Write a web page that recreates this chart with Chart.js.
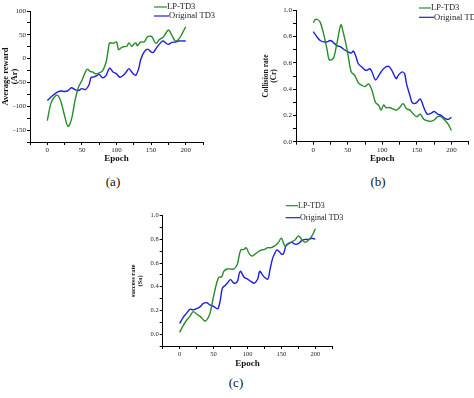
<!DOCTYPE html>
<html>
<head>
<meta charset="utf-8">
<script src="https://cdn.jsdelivr.net/npm/chart.js@4.4.1/dist/chart.umd.min.js"></script>
<style>
  body { margin: 0; background: #fff; }
  #wrap { position: relative; width: 474px; height: 398px; overflow: hidden; }
  canvas { position: absolute; }
  .cap { position: absolute; width: 40px; text-align: center; font: 13px "Liberation Serif", serif; color: #111; }
</style>
</head>
<body>
<div id="wrap">
  <canvas id="rewardChart" width="237" height="168" style="left:0;top:0"></canvas>
  <canvas id="collisionChart" width="237" height="168" style="left:237px;top:0"></canvas>
  <canvas id="successChart" width="237" height="178" style="left:120px;top:195px"></canvas>
  <div class="cap" style="left:93px;top:174px">(a)</div>
  <div class="cap" style="left:358px;top:174px">(b)</div>
  <div class="cap" style="left:216px;top:375px">(c)</div>
</div>
<script>
const seriesNames = ['LP-TD3', 'Original TD3'];
const epochTicks = [0, 50, 100, 150, 200];
const rewardTicks = [-150, -100, -50, 0, 50, 100];
const rateTicks = [0, 0.2, 0.4, 0.6, 0.8, 1.0];

// (a) average reward
const rewardEpochsLP = [0,5,10,15,20,25,30,35,40,45,50,55,58,62,65,70,75,80,85,88,90,95,100,103,107,110,115,118,122,125,128,130,135,140,145,150,152,157,162,168,175,180,185,190,195,200];
const rewardLP = [-130,-95,-81,-77,-92,-120,-142,-127,-88,-60,-46,-28,-22,-27,-28,-32,-30,-25,-7,18,33,32,35,19,23,25,26,33,26,30,33,27,35,35,46,47,44,32,40,46,60,49,37,41,53,67];
const rewardEpochsTD3 = [0,5,10,15,20,25,30,35,40,45,50,55,60,63,65,70,75,80,85,90,95,100,105,110,115,118,122,125,128,132,135,140,145,150,153,158,163,167,172,175,180,185,190,200];
const rewardTD3 = [-88,-81,-75,-70,-68,-69,-67,-61,-65,-67,-63,-65,-56,-40,-39,-37,-33,-40,-35,-20,-28,-32,-39,-35,-26,-21,-28,-33,-35,-21,-2,14,20,14,13,23,32,37,32,30,34,35,37,37];

// (b) collision rate
const collisionEpochsLP = [0,3,6,10,15,20,23,27,30,35,40,43,47,50,55,60,65,70,75,80,85,90,95,98,102,105,110,115,120,125,130,135,140,145,150,155,160,165,170,175,180,185,190,195,200];
const collisionLP = [0.906,0.93,0.93,0.91,0.82,0.70,0.625,0.625,0.645,0.77,0.89,0.84,0.75,0.67,0.53,0.505,0.45,0.43,0.42,0.44,0.39,0.30,0.275,0.24,0.28,0.26,0.26,0.25,0.24,0.26,0.29,0.25,0.24,0.21,0.19,0.21,0.17,0.16,0.155,0.165,0.19,0.19,0.165,0.135,0.085];
const collisionEpochsTD3 = [0,5,10,15,20,25,30,35,40,45,50,55,58,62,65,70,75,78,82,85,90,95,100,105,110,115,120,123,128,132,135,140,143,147,150,155,160,165,170,175,180,185,190,195,200];
const collisionTD3 = [0.837,0.80,0.77,0.76,0.76,0.77,0.75,0.73,0.72,0.70,0.685,0.675,0.69,0.645,0.595,0.57,0.545,0.545,0.555,0.53,0.47,0.505,0.545,0.57,0.57,0.53,0.48,0.505,0.53,0.52,0.44,0.35,0.30,0.29,0.30,0.325,0.26,0.21,0.215,0.23,0.21,0.20,0.18,0.17,0.185];

// (c) success rate
const successEpochsLP = [0,5,10,15,20,25,30,35,38,42,45,50,55,58,62,65,70,75,80,85,90,95,98,103,107,112,117,120,125,130,135,140,145,150,155,160,165,170,175,180,185,190,195,200];
const successLP = [0.015,0.07,0.115,0.15,0.19,0.17,0.15,0.12,0.11,0.14,0.18,0.32,0.44,0.48,0.485,0.53,0.55,0.55,0.55,0.59,0.71,0.715,0.73,0.675,0.66,0.68,0.70,0.71,0.715,0.73,0.73,0.745,0.77,0.81,0.745,0.76,0.78,0.795,0.83,0.80,0.775,0.795,0.83,0.89];
const successEpochsTD3 = [0,5,10,15,20,25,30,35,40,45,50,55,57,60,63,67,70,75,80,85,88,90,95,100,105,110,115,118,122,125,130,133,137,140,143,147,150,153,157,160,165,170,175,180,185,190,195,200];
const successTD3 = [0.09,0.14,0.175,0.21,0.205,0.215,0.23,0.26,0.265,0.245,0.235,0.215,0.22,0.29,0.39,0.41,0.43,0.46,0.43,0.445,0.515,0.53,0.48,0.465,0.445,0.43,0.465,0.53,0.50,0.48,0.465,0.54,0.64,0.68,0.71,0.695,0.675,0.68,0.75,0.765,0.775,0.76,0.765,0.79,0.80,0.80,0.81,0.80];

const GREEN = 'rgb(40,140,40)';
const BLUE = 'rgb(30,30,225)';
Chart.defaults.font.family = '"Liberation Serif", "Times New Roman", serif';

function toPoints(xs, ys) {
    return xs.map((x, i) => ({ x: x, y: ys[i] }));
}

function inList(list, v) {
    return list.some(t => Math.abs(t - v) < 1e-6);
}

// small legend drawn top right, line then label
const miniLegend = {
    id: 'miniLegend',
    afterDraw(chart, args, opts) {
        const ctx = chart.ctx;
        ctx.save();
        ctx.font = opts.size + 'px "Liberation Serif", serif';
        ctx.textBaseline = 'middle';
        chart.data.datasets.forEach((ds, i) => {
            const e = opts.items[i];
            ctx.strokeStyle = ds.borderColor;
            ctx.lineWidth = 1.2;
            ctx.beginPath();
            ctx.moveTo(e.x0, e.y);
            ctx.lineTo(e.x1, e.y);
            ctx.stroke();
            ctx.fillStyle = '#222';
            ctx.fillText(ds.label, e.x1, e.y);
        });
        ctx.restore();
    }
};

function makeChart(id, c) {
    return new Chart(document.getElementById(id), {
        type: 'line',
        data: {
            datasets: [
                { label: seriesNames[0], data: toPoints(c.lpX, c.lpY), borderColor: GREEN, borderWidth: 1.4, pointRadius: 0, tension: 0.35 },
                { label: seriesNames[1], data: toPoints(c.tdX, c.tdY), borderColor: BLUE, borderWidth: 1.4, pointRadius: 0, tension: 0.35 }
            ]
        },
        options: {
            responsive: false,
            animation: false,
            layout: { padding: c.pad },
            plugins: {
                legend: { display: false },
                tooltip: { enabled: false },
                miniLegend: { size: c.legendSize, items: c.legendItems }
            },
            scales: {
                x: {
                    type: 'linear', min: -25, max: 225,
                    ticks: {
                        stepSize: 25, autoSkip: false, maxRotation: 0, padding: 1,
                        color: '#222', font: { size: c.tickSize },
                        callback: v => inList(epochTicks, v) ? String(v) : ''
                    },
                    grid: { drawOnChartArea: false, color: '#000', tickLength: 3 },
                    border: { color: '#000', width: 1 },
                    title: { display: true, text: 'Epoch', color: '#111', font: { size: 9, weight: 'bold' }, padding: { top: 0, bottom: 4 } },
                    afterFit: s => { s.height = c.xh; }
                },
                y: {
                    min: c.ymin, max: c.ymax,
                    ticks: {
                        stepSize: c.ystep, padding: 1,
                        color: '#222', font: { size: c.tickSize },
                        callback: v => inList(c.yLabels, v) ? c.fmt(v) : ''
                    },
                    grid: { drawOnChartArea: false, color: '#000', tickLength: 3 },
                    border: { color: '#000', width: 1 },
                    title: { display: true, text: c.ytitle, color: '#111', font: { size: c.titleSize, weight: 'bold', lineHeight: 1.05 }, padding: 0 },
                    afterFit: s => { s.width = c.yw; }
                }
            }
        },
        plugins: [miniLegend]
    });
}

makeChart('rewardChart', {
    lpX: rewardEpochsLP, lpY: rewardLP, tdX: rewardEpochsTD3, tdY: rewardTD3,
    ymin: -175, ymax: 100, ystep: 25, yLabels: rewardTicks, fmt: v => String(Math.round(v)),
    ytitle: ['Average reward', '(Ar)'], titleSize: 8.5, tickSize: 7,
    pad: { left: 1.5, right: 34, top: 11, bottom: 0 }, yw: 28.5, xh: 26,
    legendSize: 8.5,
    legendItems: [{ x0: 154, x1: 167, y: 7 }, { x0: 154, x1: 169, y: 16 }]
});

makeChart('collisionChart', {
    lpX: collisionEpochsLP, lpY: collisionLP, tdX: collisionEpochsTD3, tdY: collisionTD3,
    ymin: 0, ymax: 1, ystep: 0.1, yLabels: rateTicks, fmt: v => v.toFixed(1),
    ytitle: ['Collision rate', '(Cr)'], titleSize: 7.5, tickSize: 7,
    pad: { left: 25, right: 5.3, top: 10.3, bottom: 0 }, yw: 34, xh: 26.3,
    legendSize: 8.5,
    legendItems: [{ x0: 182, x1: 194, y: 8 }, { x0: 182, x1: 197, y: 17.3 }]
});

makeChart('successChart', {
    lpX: successEpochsLP, lpY: successLP, tdX: successEpochsTD3, tdY: successTD3,
    ymin: -0.1, ymax: 1, ystep: 0.1, yLabels: rateTicks, fmt: v => v.toFixed(1),
    ytitle: ['success rate', '(Sa)'], titleSize: 6.5, tickSize: 6.5,
    pad: { left: 9.7, right: 24.7, top: 20.7, bottom: 0 }, yw: 33, xh: 27,
    legendSize: 8,
    legendItems: [{ x0: 165.7, x1: 178, y: 10.7 }, { x0: 165.7, x1: 180, y: 22.7 }]
});
</script>
</body>
</html>
